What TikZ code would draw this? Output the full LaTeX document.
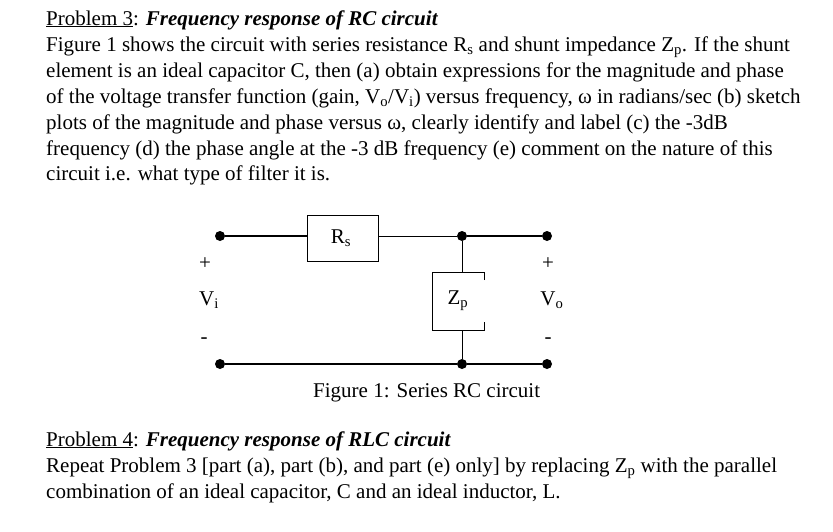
\documentclass[tikz,border=0pt]{standalone}
\usepackage{fontspec}
\setmainfont{Liberation Serif}
\begin{document}
\begin{tikzpicture}[x=1pt,y=-1pt,
  txt/.style={anchor=base west,inner sep=0pt,font=\fontsize{21}{24}\selectfont},
  lbl/.style={inner sep=0pt,font=\fontsize{21}{24}\selectfont},
  dot/.style={circle,fill=black,inner sep=0pt,minimum size=10pt},
  wire/.style={line width=1.8pt},
  thin/.style={line width=0.9pt}]
\useasboundingbox (0,0) rectangle (833,531);
\node[txt] (l1) at (46,25) {\underline{Problem 3}: \textbf{\textit{Frequency response of RC circuit}}};
\node[txt] (l2) at (46,51) {Figure 1 shows the circuit with series resistance R\textsubscript{s} and shunt impedance Z\textsubscript{p}. If the shunt};
\node[txt] (l3) at (46,77) {element is an ideal capacitor C, then (a) obtain expressions for the magnitude and phase};
\node[txt] (l4) at (46,103) {of the voltage transfer function (gain, V\textsubscript{o}/V\textsubscript{i}) versus frequency, ω in radians/sec (b) sketch};
\node[txt] (l5) at (46,129) {plots of the magnitude and phase versus ω, clearly identify and label (c) the -3dB};
\node[txt] (l6) at (46,155) {frequency (d) the phase angle at the -3 dB frequency (e) comment on the nature of this};
\node[txt] (l7) at (46,180) {circuit i.e. what type of filter it is.};
% circuit
\node[dot] (a) at (220,236) {};
\node[dot] (b) at (462,236) {};
\node[dot] (c) at (547,236) {};
\node[dot] (d) at (220,364) {};
\node[dot] (e) at (462,364) {};
\node[dot] (f) at (547,364) {};
\node[draw,thin,minimum width=71pt,minimum height=46pt,inner sep=0pt] (rs) at (342.5,238) {};
\node[lbl] (rsl) at (341,238) {R\textsubscript{s}};
\coordinate (zt) at (462,272);
\coordinate (zb) at (462,330);
\draw[thin] (484,280) -- (484,272) -- (432,272) -- (432,330) -- (484,330) -- (484,322);
\node[lbl] (zpl) at (458,301) {Z\textsubscript{p}};
\draw[wire] (a) -- (a -| rs.west);
\draw[thin] (b -| rs.east) -- (b);
\draw[wire] (b) -- (c);
\draw[thin] (b) -- (zt);
\draw[thin] (zb) -- (e);
\draw[wire] (d) -- (e) -- (f);
\node[lbl] (p1) at (205,264) {+};
\node[lbl] (vi) at (209,300) {V\textsubscript{i}};
\node[lbl] (m1) at (204,341) {-};
\node[lbl] (p2) at (548,264) {+};
\node[lbl] (vo) at (552,300) {V\textsubscript{o}};
\node[lbl] (m2) at (548,341) {-};
\node[txt] (cap) at (313,397) {Figure 1: Series RC circuit};
\node[txt] (q1) at (46,446) {\underline{Problem 4}: \textbf{\textit{Frequency response of RLC circuit}}};
\node[txt] (q2) at (46,472) {Repeat Problem 3 [part (a), part (b), and part (e) only] by replacing Z\textsubscript{p} with the parallel};
\node[txt] (q3) at (46,498) {combination of an ideal capacitor, C and an ideal inductor, L.};
\end{tikzpicture}
\end{document}
